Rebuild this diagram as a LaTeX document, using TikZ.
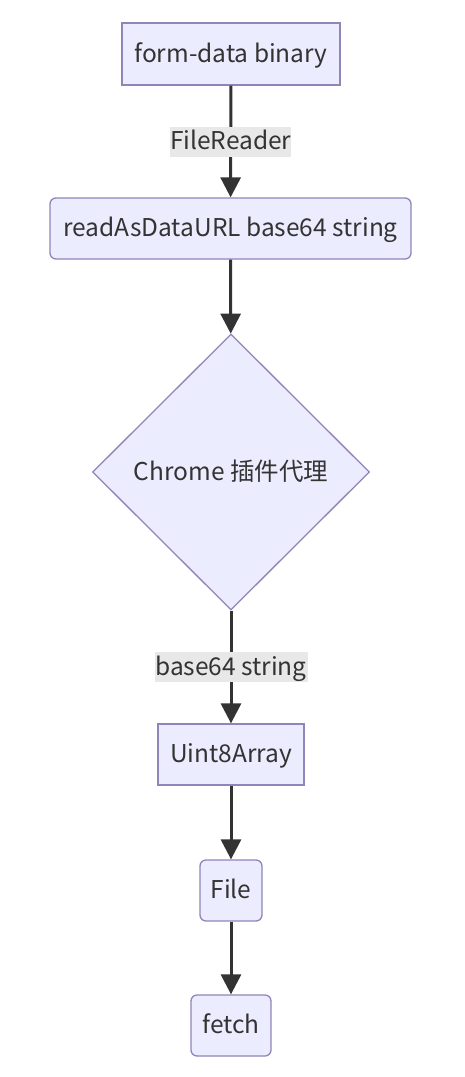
\documentclass[tikz,border=0pt]{standalone}
\usepackage{fontspec}
\setmainfont{Noto Sans CJK SC}
\usetikzlibrary{shapes.geometric,arrows.meta}
\definecolor{nodefill}{HTML}{ECECFF}
\definecolor{nodedraw}{HTML}{9184B8}
\definecolor{edgecol}{HTML}{333333}
\definecolor{lblbg}{HTML}{E8E8E8}
\tikzset{
  base/.style={fill=nodefill,draw=nodedraw,line width=1.3pt,font=\fontsize{24.5}{28}\selectfont,text=edgecol,inner sep=0pt,anchor=center,text height=20pt,text depth=4pt},
  sqbox/.style={base,rectangle},
  rbox/.style={base,rectangle,rounded corners=6pt},
  dia/.style={base,diamond,minimum width=277pt,minimum height=276pt},
  lbl/.style={fill=lblbg,font=\fontsize{24.5}{28}\selectfont,text=edgecol,inner sep=0pt,minimum height=30pt,text height=20pt,text depth=4pt},
  edge/.style={draw=edgecol,line width=3pt,-{Triangle[length=20pt,width=20pt]}}
}
\begin{document}
\begin{tikzpicture}[x=1pt,y=-1pt]
\useasboundingbox (0,0) rectangle (464,1077);
\node[sqbox,minimum width=218pt,minimum height=62pt] (a) at (231,54) {form-data binary};
\node[rbox,minimum width=361pt,minimum height=61pt] (b) at (230.5,228.5) {readAsDataURL base64 string};
\node[dia] (c) at (231,472) {Chrome 插件代理};
\node[sqbox,minimum width=146pt,minimum height=61pt] (d) at (231,754.5) {Uint8Array};
\node[rbox,minimum width=62pt,minimum height=61pt] (e) at (231,890.5) {File};
\node[rbox,minimum width=80pt,minimum height=61pt] (f) at (231,1025.5) {fetch};
\draw[edge] (a) -- (b) node[lbl,midway,minimum width=119pt] (la) {FileReader};
\draw[edge] (b) -- (c);
\draw[edge] (c) -- (d) node[lbl,midway,minimum width=153pt] (lc) {base64 string};
\draw[edge] (d) -- (e);
\draw[edge] (e) -- (f);
\end{tikzpicture}
\end{document}
